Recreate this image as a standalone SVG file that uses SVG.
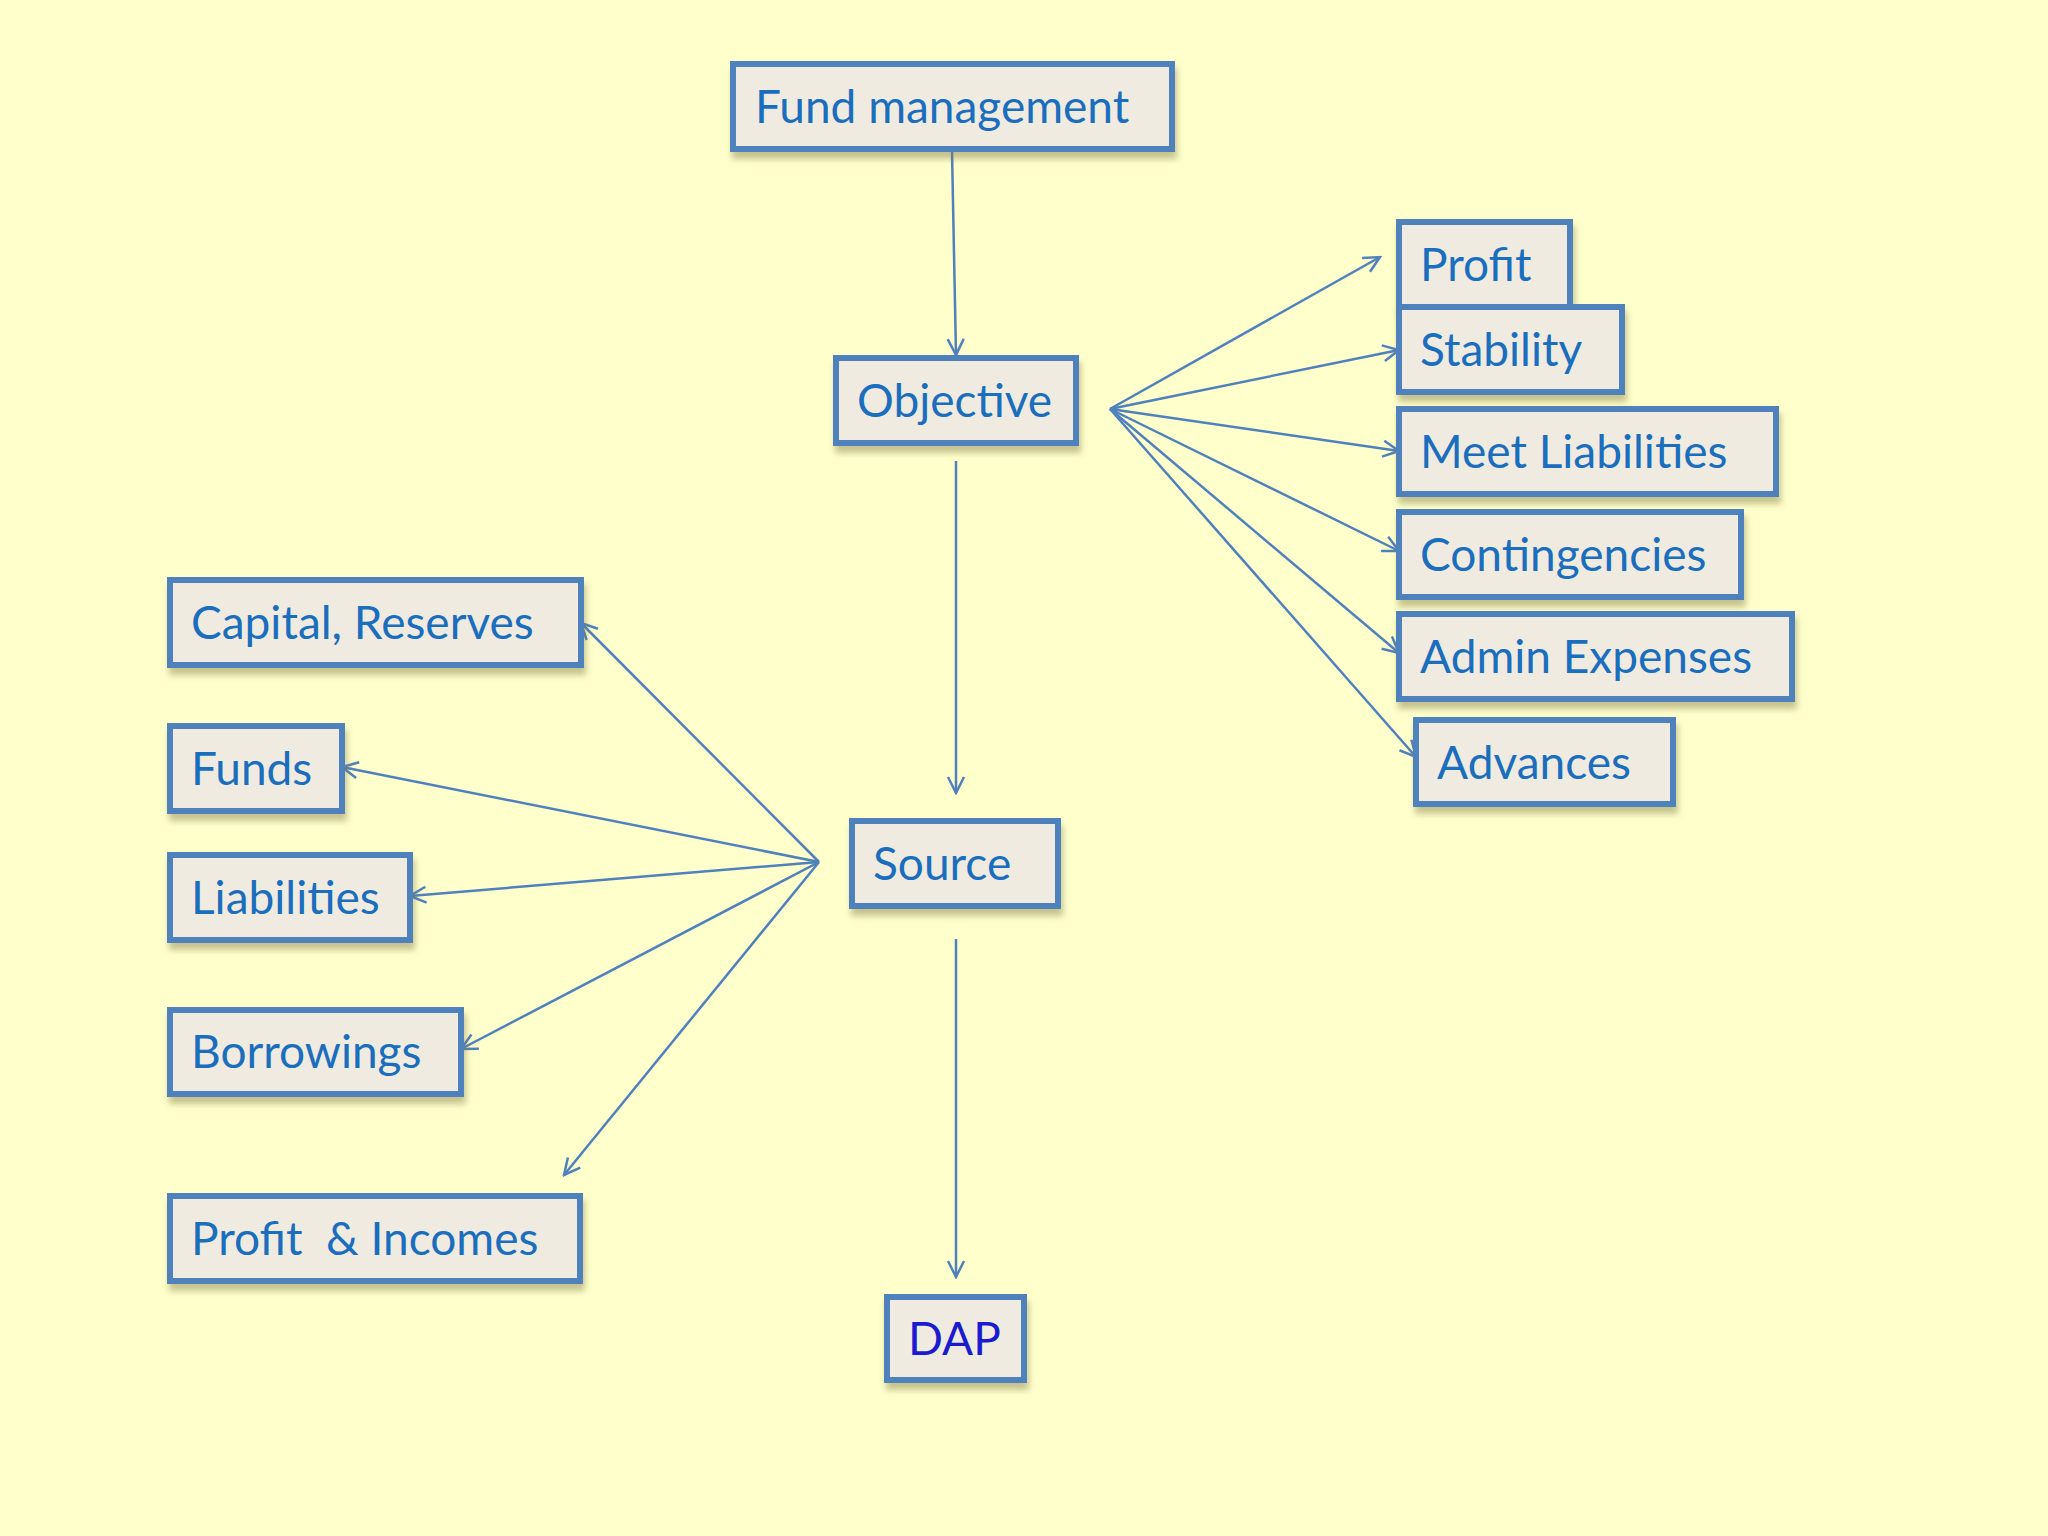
<svg xmlns="http://www.w3.org/2000/svg" width="2048" height="1536" viewBox="0 0 2048 1536">
<defs>
<marker id="ah" viewBox="0 0 20 20" refX="18" refY="10" markerWidth="20" markerHeight="20" markerUnits="userSpaceOnUse" orient="auto">
<path d="M2,2 L18,10 L2,18" fill="none" stroke="#4f81bd" stroke-width="2.5"/>
</marker>
<filter id="sh" x="-10%" y="-10%" width="120%" height="140%">
<feGaussianBlur in="SourceAlpha" stdDeviation="3"/>
<feOffset dx="2" dy="7" result="b"/>
<feFlood flood-color="#807a40" flood-opacity="0.45"/>
<feComposite in2="b" operator="in"/>
<feMerge><feMergeNode/><feMergeNode in="SourceGraphic"/></feMerge>
</filter>
<style>
.b{fill:#efebe0;stroke:#4f81bd;stroke-width:6;filter:url(#sh)}
.t{font-family:Lato,"Open Sans",sans-serif;font-size:46px;fill:#1a6ebd}
.c{fill:none;stroke:#4f81bd;stroke-width:2.5;marker-end:url(#ah)}
</style>
</defs>
<rect width="2048" height="1536" fill="#ffffcc"/>
<g id="connectors">
<line class="c" x1="952" y1="151" x2="956" y2="355"/>
<line class="c" x1="956" y1="461" x2="956" y2="793"/>
<line class="c" x1="956" y1="939" x2="956" y2="1277"/>
<line class="c" x1="1110" y1="409" x2="1380" y2="257"/>
<line class="c" x1="1110" y1="409" x2="1399" y2="350"/>
<line class="c" x1="1110" y1="409" x2="1399" y2="451"/>
<line class="c" x1="1110" y1="409" x2="1399" y2="551"/>
<line class="c" x1="1110" y1="409" x2="1399" y2="653"/>
<line class="c" x1="1110" y1="409" x2="1416" y2="757"/>
<line class="c" x1="819" y1="862" x2="581" y2="623"/>
<line class="c" x1="819" y1="862" x2="342" y2="767"/>
<line class="c" x1="819" y1="862" x2="410" y2="896"/>
<line class="c" x1="819" y1="862" x2="461" y2="1049"/>
<line class="c" x1="819" y1="862" x2="564" y2="1175"/>
</g>
<g id="fund"><rect class="b" x="733" y="64" width="439" height="85"/><text class="t" x="755" y="123">Fund management</text></g>
<g id="objective"><rect class="b" x="836" y="358" width="240" height="85"/><text class="t" x="857" y="417">Objective</text></g>
<g id="source"><rect class="b" x="852" y="821" width="206" height="85"/><text class="t" x="873" y="880">Source</text></g>
<g id="dap"><rect class="b" x="887" y="1297" width="137" height="83"/><text class="t" x="908" y="1355" style="fill:#1a1ad0">DAP</text></g>
<g id="profit"><rect class="b" x="1399" y="222" width="171" height="85"/><text class="t" x="1420" y="281">Profit</text></g>
<g id="stability"><rect class="b" x="1399" y="307" width="223" height="85"/><text class="t" x="1420" y="366">Stability</text></g>
<g id="meet"><rect class="b" x="1399" y="409" width="377" height="85"/><text class="t" x="1420" y="468">Meet Liabilities</text></g>
<g id="contingencies"><rect class="b" x="1399" y="512" width="342" height="85"/><text class="t" x="1420" y="571">Contingencies</text></g>
<g id="admin"><rect class="b" x="1399" y="614" width="393" height="85"/><text class="t" x="1420" y="673">Admin Expenses</text></g>
<g id="advances"><rect class="b" x="1416" y="720" width="257" height="84"/><text class="t" x="1437" y="779">Advances</text></g>
<g id="capital"><rect class="b" x="170" y="580" width="411" height="85"/><text class="t" x="191" y="639">Capital, Reserves</text></g>
<g id="funds"><rect class="b" x="170" y="726" width="172" height="85"/><text class="t" x="191" y="785">Funds</text></g>
<g id="liabilities"><rect class="b" x="170" y="855" width="240" height="85"/><text class="t" x="191" y="914">Liabilities</text></g>
<g id="borrowings"><rect class="b" x="170" y="1010" width="291" height="84"/><text class="t" x="191" y="1068">Borrowings</text></g>
<g id="incomes"><rect class="b" x="170" y="1196" width="410" height="85"/><text class="t" x="191" y="1255" xml:space="preserve">Profit  &amp; Incomes</text></g>
</svg>
